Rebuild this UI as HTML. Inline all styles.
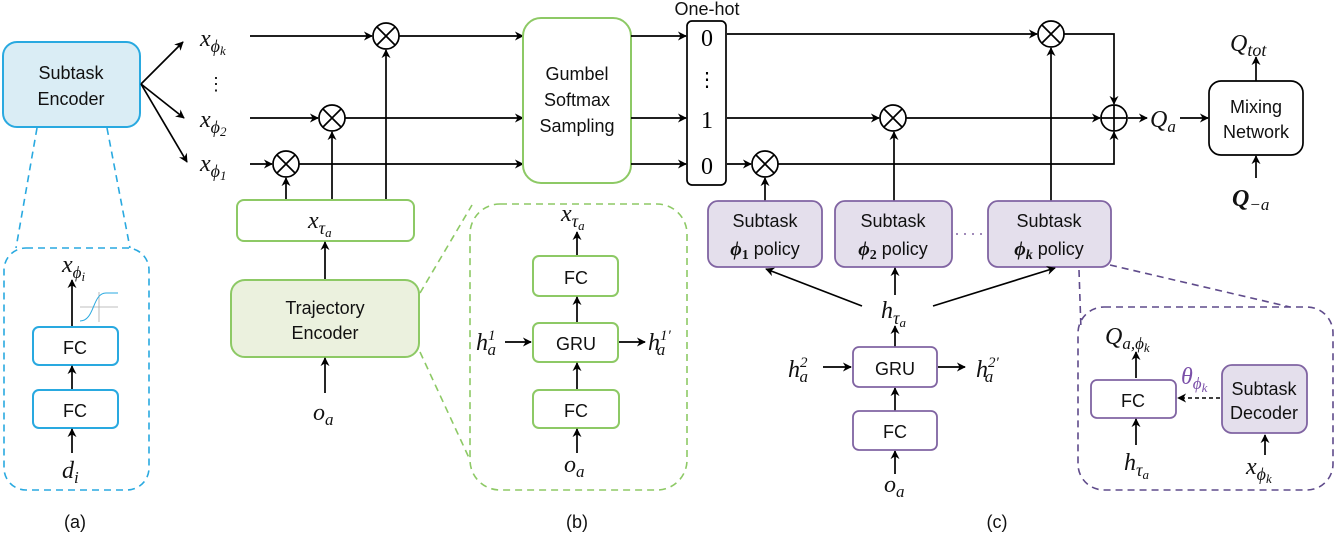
<!DOCTYPE html>
<html><head><meta charset="utf-8"><style>
html,body{margin:0;padding:0;background:#fff;}
svg{display:block;}
.s{font-family:"Liberation Sans",sans-serif;font-size:18px;fill:#111;}
.m{font-family:"Liberation Serif",serif;font-style:italic;font-size:24px;fill:#111;}
.l{stroke:#000;stroke-width:1.7;fill:none;}
</style></head><body>
<svg width="1335" height="537" viewBox="0 0 1335 537" xmlns="http://www.w3.org/2000/svg">
<defs>
<marker id="a" viewBox="0 0 10 10" refX="9" refY="5" markerWidth="9" markerHeight="9" orient="auto-start-reverse" markerUnits="userSpaceOnUse">
<path d="M0,0 L10,5 L0,10 L3,5 z" fill="#000"/></marker>
</defs>

<!-- (a) -->
<rect x="3" y="42" width="137" height="85" rx="14" fill="#daedf5" stroke="#29a9e0" stroke-width="2"/>
<text class="s" x="71" y="79" text-anchor="middle" font-size="19">Subtask</text>
<text class="s" x="71" y="105" text-anchor="middle" font-size="19">Encoder</text>
<path d="M37,128 L16,248 M107,128 L130,248" stroke="#29a9e0" stroke-width="1.6" stroke-dasharray="7,5" fill="none"/>
<rect x="4" y="248" width="145" height="242" rx="22" fill="none" stroke="#29a9e0" stroke-width="1.6" stroke-dasharray="7,5"/>
<text class="m" x="62" y="272">x<tspan font-size="17" dy="6">ϕ</tspan><tspan font-size="13" dy="3">i</tspan></text>
<line class="l" x1="72" y1="327" x2="72" y2="280" marker-end="url(#a)"/>
<path d="M80,307 L118,307 M99,292 L99,322" stroke="#aaa" stroke-width="0.8"/>
<path d="M80,321 C95,321 92,293 106,293 L118,293" stroke="#29a9e0" stroke-width="1" fill="none"/>
<rect x="33" y="327" width="85" height="38" rx="6" fill="#fff" stroke="#29a9e0" stroke-width="2"/>
<text class="s" x="75" y="354" text-anchor="middle" font-size="20">FC</text>
<line class="l" x1="72" y1="390" x2="72" y2="366" marker-end="url(#a)"/>
<rect x="33" y="390" width="85" height="38" rx="6" fill="#fff" stroke="#29a9e0" stroke-width="2"/>
<text class="s" x="75" y="417" text-anchor="middle" font-size="20">FC</text>
<line class="l" x1="72" y1="453" x2="72" y2="429" marker-end="url(#a)"/>
<text class="m" x="62" y="478">d<tspan font-size="17" dy="5">i</tspan></text>
<text class="s" x="75" y="528" text-anchor="middle" font-size="20">(a)</text>

<!-- encoder outputs -->
<line class="l" x1="141" y1="84" x2="183" y2="42" marker-end="url(#a)"/>
<line class="l" x1="141" y1="84" x2="184" y2="118" marker-end="url(#a)"/>
<line class="l" x1="141" y1="84" x2="187" y2="162" marker-end="url(#a)"/>
<text class="m" x="200" y="46">x<tspan font-size="18" dy="6">ϕ</tspan><tspan font-size="13" dy="3">k</tspan></text>
<text class="s" x="216" y="90" text-anchor="middle" font-size="20">⋮</text>
<text class="m" x="200" y="127">x<tspan font-size="18" dy="6">ϕ</tspan><tspan font-size="13" dy="3">2</tspan></text>
<text class="m" x="200" y="171">x<tspan font-size="18" dy="6">ϕ</tspan><tspan font-size="13" dy="3">1</tspan></text>

<!-- multiply circles left -->
<g class="l">
<line x1="250" y1="36" x2="372" y2="36" marker-end="url(#a)"/>
<line x1="250" y1="118" x2="318" y2="118" marker-end="url(#a)"/>
<line x1="250" y1="164" x2="272" y2="164" marker-end="url(#a)"/>
<line x1="399" y1="36" x2="523" y2="36" marker-end="url(#a)"/>
<line x1="345" y1="118" x2="523" y2="118" marker-end="url(#a)"/>
<line x1="299" y1="164" x2="523" y2="164" marker-end="url(#a)"/>
<line x1="286" y1="200" x2="286" y2="178" marker-end="url(#a)"/>
<line x1="332" y1="200" x2="332" y2="132" marker-end="url(#a)"/>
<line x1="386" y1="200" x2="386" y2="50" marker-end="url(#a)"/>
</g>
<g fill="#fff" stroke="#000" stroke-width="1.7">
<circle cx="386" cy="36" r="13"/><path d="M377,27 L395,45 M395,27 L377,45"/>
<circle cx="332" cy="118" r="13"/><path d="M323,109 L341,127 M341,109 L323,127"/>
<circle cx="286" cy="164" r="13"/><path d="M277,155 L295,173 M295,155 L277,173"/>
</g>
<rect x="237" y="200" width="177" height="41" rx="7" fill="#fff" stroke="#8dc965" stroke-width="2"/>
<text class="m" x="308" y="228">x<tspan font-size="18" dy="6">τ</tspan><tspan font-size="13" dy="3">a</tspan></text>
<line class="l" x1="325" y1="280" x2="325" y2="242" marker-end="url(#a)"/>
<rect x="231" y="280" width="188" height="77" rx="14" fill="#ebf1de" stroke="#8dc965" stroke-width="2"/>
<text class="s" x="325" y="314" text-anchor="middle" font-size="19">Trajectory</text>
<text class="s" x="325" y="339" text-anchor="middle" font-size="19">Encoder</text>
<line class="l" x1="325" y1="393" x2="325" y2="358" marker-end="url(#a)"/>
<text class="m" x="313" y="420">o<tspan font-size="17" dy="5">a</tspan></text>

<!-- (b) -->
<path d="M420,293 L472,205 M420,352 L470,460" stroke="#8dc965" stroke-width="1.6" stroke-dasharray="7,5" fill="none"/>
<rect x="470" y="204" width="217" height="286" rx="30" fill="none" stroke="#8dc965" stroke-width="1.6" stroke-dasharray="7,5"/>
<text class="m" x="561" y="221">x<tspan font-size="18" dy="6">τ</tspan><tspan font-size="13" dy="3">a</tspan></text>
<line class="l" x1="577" y1="256" x2="577" y2="232" marker-end="url(#a)"/>
<rect x="533" y="256" width="85" height="40" rx="6" fill="#fff" stroke="#8dc965" stroke-width="2"/>
<text class="s" x="576" y="284" text-anchor="middle" font-size="20">FC</text>
<line class="l" x1="577" y1="323" x2="577" y2="297" marker-end="url(#a)"/>
<rect x="533" y="323" width="85" height="39" rx="6" fill="#fff" stroke="#8dc965" stroke-width="2"/>
<text class="s" x="576" y="350" text-anchor="middle" font-size="20">GRU</text>
<line class="l" x1="577" y1="390" x2="577" y2="363" marker-end="url(#a)"/>
<rect x="533" y="390" width="86" height="38" rx="6" fill="#fff" stroke="#8dc965" stroke-width="2"/>
<text class="s" x="576" y="417" text-anchor="middle" font-size="20">FC</text>
<line class="l" x1="577" y1="453" x2="577" y2="429" marker-end="url(#a)"/>
<text class="m" x="564" y="472">o<tspan font-size="17" dy="5">a</tspan></text>
<text class="m" x="476" y="350">h<tspan font-size="15" dy="-10">1</tspan><tspan font-size="17" dx="-8" dy="15">a</tspan></text>
<line class="l" x1="505" y1="342" x2="531" y2="342" marker-end="url(#a)"/>
<line class="l" x1="619" y1="342" x2="645" y2="342" marker-end="url(#a)"/>
<text class="m" x="648" y="350">h<tspan font-size="15" dy="-10">1′</tspan><tspan font-size="17" dx="-14" dy="15">a</tspan></text>
<text class="s" x="577" y="528" text-anchor="middle" font-size="20">(b)</text>

<!-- Gumbel & one-hot -->
<rect x="523" y="18" width="108" height="165" rx="18" fill="#fff" stroke="#8dc965" stroke-width="2"/>
<text class="s" x="577" y="80" text-anchor="middle" font-size="19">Gumbel</text>
<text class="s" x="577" y="106" text-anchor="middle" font-size="19">Softmax</text>
<text class="s" x="577" y="132" text-anchor="middle" font-size="19">Sampling</text>
<g class="l">
<line x1="631" y1="36" x2="686" y2="36" marker-end="url(#a)"/>
<line x1="631" y1="118" x2="686" y2="118" marker-end="url(#a)"/>
<line x1="631" y1="164" x2="686" y2="164" marker-end="url(#a)"/>
</g>
<rect x="687" y="21" width="39" height="164" rx="5" fill="#fff" stroke="#000" stroke-width="1.7"/>
<text class="s" x="707" y="15" text-anchor="middle" font-size="16">One-hot</text>
<text x="707" y="46" text-anchor="middle" font-family="Liberation Serif" font-size="24">0</text>
<text x="707" y="86" text-anchor="middle" font-family="Liberation Serif" font-size="20">⋮</text>
<text x="707" y="128" text-anchor="middle" font-family="Liberation Serif" font-size="24">1</text>
<text x="707" y="174" text-anchor="middle" font-family="Liberation Serif" font-size="24">0</text>

<!-- right side lines -->
<g class="l">
<line x1="727" y1="34" x2="1037" y2="34" marker-end="url(#a)"/>
<line x1="727" y1="118" x2="879" y2="118" marker-end="url(#a)"/>
<line x1="727" y1="164" x2="751" y2="164" marker-end="url(#a)"/>
<polyline points="1064,34 1114,34 1114,104" marker-end="url(#a)"/>
<line x1="906" y1="118" x2="1100" y2="118" marker-end="url(#a)"/>
<polyline points="778,164 1114,164 1114,132" marker-end="url(#a)"/>
<line x1="1128" y1="118" x2="1147" y2="118" marker-end="url(#a)"/>
<line x1="1180" y1="118" x2="1208" y2="118" marker-end="url(#a)"/>
<line x1="765" y1="201" x2="765" y2="178" marker-end="url(#a)"/>
<line x1="894" y1="201" x2="894" y2="132" marker-end="url(#a)"/>
<line x1="1051" y1="201" x2="1051" y2="48" marker-end="url(#a)"/>
<line x1="1256" y1="81" x2="1256" y2="57" marker-end="url(#a)"/>
<line x1="1256" y1="178" x2="1256" y2="156" marker-end="url(#a)"/>
</g>
<g fill="#fff" stroke="#000" stroke-width="1.7">
<circle cx="1051" cy="34" r="13"/><path d="M1042,25 L1060,43 M1060,25 L1042,43"/>
<circle cx="893" cy="118" r="13"/><path d="M884,109 L902,127 M902,109 L884,127"/>
<circle cx="765" cy="164" r="13"/><path d="M756,155 L774,173 M774,155 L756,173"/>
<circle cx="1114" cy="118" r="13"/><path d="M1101,118 L1127,118 M1114,105 L1114,131"/>
</g>
<text class="m" x="1150" y="127">Q<tspan font-size="17" dy="5">a</tspan></text>
<rect x="1209" y="81" width="94" height="74" rx="12" fill="#fff" stroke="#000" stroke-width="1.7"/>
<text class="s" x="1256" y="113" text-anchor="middle" font-size="19">Mixing</text>
<text class="s" x="1256" y="138" text-anchor="middle" font-size="19">Network</text>
<text class="m" x="1230" y="51">Q<tspan font-size="18" dy="5">tot</tspan></text>
<text class="m" x="1232" y="206" font-weight="bold">Q<tspan font-size="17" dy="4" font-weight="normal">−a</tspan></text>

<!-- policies -->
<g fill="#e4dfec" stroke="#8064a2" stroke-width="1.8">
<rect x="708" y="201" width="114" height="66" rx="10"/>
<rect x="835" y="201" width="117" height="66" rx="10"/>
<rect x="988" y="201" width="123" height="66" rx="10"/>
</g>
<text class="s" x="765" y="227" text-anchor="middle" font-size="18">Subtask</text>
<text class="s" x="765" y="255" text-anchor="middle" font-size="18"><tspan font-family="Liberation Serif" font-weight="bold" font-style="italic" font-size="20">ϕ</tspan><tspan font-family="Liberation Serif" font-weight="bold" font-size="14" dy="4">1</tspan><tspan dy="-4"> policy</tspan></text>
<text class="s" x="893" y="227" text-anchor="middle" font-size="18">Subtask</text>
<text class="s" x="893" y="255" text-anchor="middle" font-size="18"><tspan font-family="Liberation Serif" font-weight="bold" font-style="italic" font-size="20">ϕ</tspan><tspan font-family="Liberation Serif" font-weight="bold" font-size="14" dy="4">2</tspan><tspan dy="-4"> policy</tspan></text>
<text class="s" x="1049" y="227" text-anchor="middle" font-size="18">Subtask</text>
<text class="s" x="1049" y="255" text-anchor="middle" font-size="18"><tspan font-family="Liberation Serif" font-weight="bold" font-style="italic" font-size="20">ϕ</tspan><tspan font-family="Liberation Serif" font-weight="bold" font-style="italic" font-size="14" dy="4">k</tspan><tspan dy="-4"> policy</tspan></text>
<line x1="956" y1="234" x2="985" y2="234" stroke="#8064a2" stroke-width="1.6" stroke-dasharray="2,6"/>

<!-- (c) network -->
<g class="l">
<line x1="862" y1="306" x2="766" y2="269" marker-end="url(#a)"/>
<line x1="895" y1="295" x2="895" y2="268" marker-end="url(#a)"/>
<line x1="933" y1="306" x2="1055" y2="268" marker-end="url(#a)"/>
<line x1="895" y1="347" x2="895" y2="326" marker-end="url(#a)"/>
<line x1="823" y1="367" x2="851" y2="367" marker-end="url(#a)"/>
<line x1="938" y1="367" x2="965" y2="367" marker-end="url(#a)"/>
<line x1="895" y1="411" x2="895" y2="388" marker-end="url(#a)"/>
<line x1="895" y1="474" x2="895" y2="451" marker-end="url(#a)"/>
</g>
<text class="m" x="881" y="318">h<tspan font-size="18" dy="6">τ</tspan><tspan font-size="13" dy="3">a</tspan></text>
<rect x="853" y="347" width="84" height="40" rx="6" fill="#fff" stroke="#8064a2" stroke-width="1.8"/>
<text class="s" x="895" y="375" text-anchor="middle" font-size="20">GRU</text>
<rect x="853" y="411" width="84" height="39" rx="6" fill="#fff" stroke="#8064a2" stroke-width="1.8"/>
<text class="s" x="895" y="438" text-anchor="middle" font-size="20">FC</text>
<text class="m" x="884" y="492">o<tspan font-size="17" dy="5">a</tspan></text>
<text class="m" x="788" y="377">h<tspan font-size="15" dy="-10">2</tspan><tspan font-size="17" dx="-8" dy="15">a</tspan></text>
<text class="m" x="976" y="377">h<tspan font-size="15" dy="-10">2′</tspan><tspan font-size="17" dx="-14" dy="15">a</tspan></text>

<!-- (c) inset -->
<path d="M1079,270 L1081,330 M1110,265 L1290,307" stroke="#5f4b8b" stroke-width="1.6" stroke-dasharray="7,5" fill="none"/>
<rect x="1078" y="307" width="255" height="183" rx="26" fill="none" stroke="#5f4b8b" stroke-width="1.6" stroke-dasharray="7,5"/>
<text class="m" x="1105" y="344">Q<tspan font-size="17" dy="5">a,ϕ</tspan><tspan font-size="13" dy="3">k</tspan></text>
<line class="l" x1="1136" y1="378" x2="1136" y2="352" marker-end="url(#a)"/>
<rect x="1091" y="380" width="85" height="38" rx="6" fill="#fff" stroke="#8064a2" stroke-width="1.8"/>
<text class="s" x="1133" y="407" text-anchor="middle" font-size="20">FC</text>
<line class="l" x1="1136" y1="445" x2="1136" y2="419" marker-end="url(#a)"/>
<text class="m" x="1124" y="470">h<tspan font-size="18" dy="6">τ</tspan><tspan font-size="13" dy="3">a</tspan></text>
<line x1="1220" y1="398" x2="1178" y2="398" stroke="#000" stroke-width="1.6" stroke-dasharray="4,3" marker-end="url(#a)"/>
<text class="m" x="1181" y="384" style="fill:#7a4fa8">θ<tspan font-size="17" dy="5" style="fill:#7a4fa8">ϕ</tspan><tspan font-size="13" dy="3" style="fill:#7a4fa8">k</tspan></text>
<rect x="1222" y="365" width="85" height="68" rx="10" fill="#e4dfec" stroke="#8064a2" stroke-width="1.8"/>
<text class="s" x="1264" y="395" text-anchor="middle" font-size="18">Subtask</text>
<text class="s" x="1264" y="419" text-anchor="middle" font-size="18">Decoder</text>
<line class="l" x1="1265" y1="455" x2="1265" y2="435" marker-end="url(#a)"/>
<text class="m" x="1246" y="474">x<tspan font-size="18" dy="6">ϕ</tspan><tspan font-size="13" dy="3">k</tspan></text>
<text class="s" x="997" y="528" text-anchor="middle" font-size="20">(c)</text>
</svg>
</body></html>
